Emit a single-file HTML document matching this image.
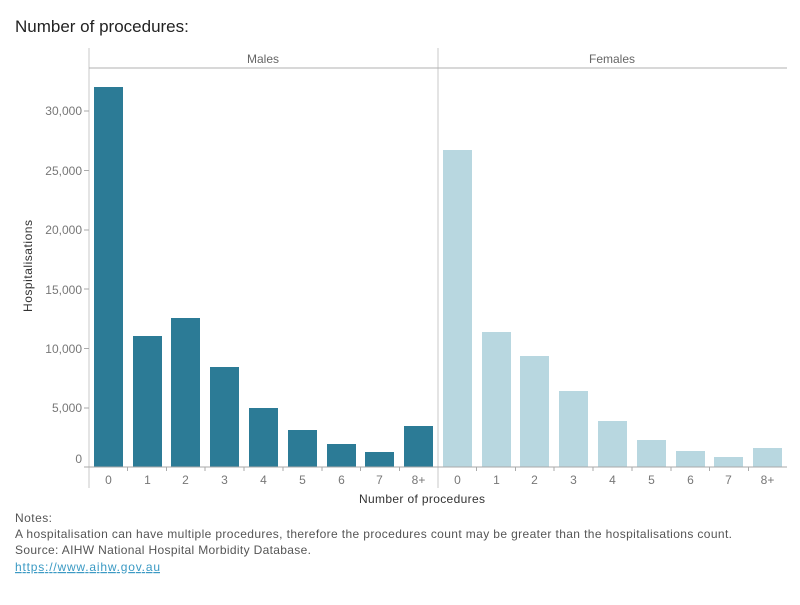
<!DOCTYPE html>
<html><head><meta charset="utf-8"><style>
body{margin:0;background:#fff;font-family:"Liberation Sans",sans-serif;}
</style></head><body>
<svg width="800" height="600" xmlns="http://www.w3.org/2000/svg" font-family="Liberation Sans, sans-serif">
<text x="15" y="32" font-size="17" fill="#222">Number of procedures:</text>
<line x1="89" y1="48" x2="89" y2="488" stroke="#c8c8c8"/>
<line x1="438" y1="48" x2="438" y2="488" stroke="#c8c8c8"/>
<line x1="89" y1="68" x2="787" y2="68" stroke="#b0b0b0"/>
<text x="263" y="63" font-size="12" fill="#666" text-anchor="middle">Males</text>
<text x="612" y="63" font-size="12" fill="#666" text-anchor="middle">Females</text>
<g font-size="12" fill="#777" text-anchor="end">
<text x="82" y="115">30,000</text><line x1="84" y1="111" x2="89" y2="111" stroke="#aaa"/>
<text x="82" y="175">25,000</text><line x1="84" y1="170.5" x2="89" y2="170.5" stroke="#aaa"/>
<text x="82" y="234">20,000</text><line x1="84" y1="230" x2="89" y2="230" stroke="#aaa"/>
<text x="82" y="294">15,000</text><line x1="84" y1="289" x2="89" y2="289" stroke="#aaa"/>
<text x="82" y="353">10,000</text><line x1="84" y1="348.5" x2="89" y2="348.5" stroke="#aaa"/>
<text x="82" y="412">5,000</text><line x1="84" y1="408" x2="89" y2="408" stroke="#aaa"/>
<text x="82" y="463">0</text><line x1="84" y1="467" x2="89" y2="467" stroke="#aaa"/>
</g>
<text transform="translate(32,266) rotate(-90)" font-size="12" fill="#333" text-anchor="middle" textLength="92">Hospitalisations</text>
<g fill="#2c7b96">
<rect x="94" y="87" width="29" height="380"/>
<rect x="133" y="336" width="29" height="131"/>
<rect x="171" y="318" width="29" height="149"/>
<rect x="210" y="367" width="29" height="100"/>
<rect x="249" y="408" width="29" height="59"/>
<rect x="288" y="430" width="29" height="37"/>
<rect x="327" y="444" width="29" height="23"/>
<rect x="365" y="452" width="29" height="15"/>
<rect x="404" y="426" width="29" height="41"/>
</g>
<g fill="#b8d7e0">
<rect x="443" y="150" width="29" height="317"/>
<rect x="482" y="332" width="29" height="135"/>
<rect x="520" y="356" width="29" height="111"/>
<rect x="559" y="391" width="29" height="76"/>
<rect x="598" y="421" width="29" height="46"/>
<rect x="637" y="440" width="29" height="27"/>
<rect x="676" y="451" width="29" height="16"/>
<rect x="714" y="457" width="29" height="10"/>
<rect x="753" y="448" width="29" height="19"/>
</g>
<line x1="89" y1="467" x2="787" y2="467" stroke="#aaa"/>
<g stroke="#aaa">
<line x1="127.5" y1="467" x2="127.5" y2="471"/><line x1="166.5" y1="467" x2="166.5" y2="471"/><line x1="205" y1="467" x2="205" y2="471"/><line x1="244" y1="467" x2="244" y2="471"/><line x1="283" y1="467" x2="283" y2="471"/><line x1="322" y1="467" x2="322" y2="471"/><line x1="360.5" y1="467" x2="360.5" y2="471"/><line x1="399.5" y1="467" x2="399.5" y2="471"/>
<line x1="476.5" y1="467" x2="476.5" y2="471"/><line x1="515.5" y1="467" x2="515.5" y2="471"/><line x1="554" y1="467" x2="554" y2="471"/><line x1="593" y1="467" x2="593" y2="471"/><line x1="632" y1="467" x2="632" y2="471"/><line x1="671" y1="467" x2="671" y2="471"/><line x1="709.5" y1="467" x2="709.5" y2="471"/><line x1="748.5" y1="467" x2="748.5" y2="471"/>
</g>
<g font-size="12" fill="#777" text-anchor="middle">
<text x="108.5" y="484">0</text><text x="147.5" y="484">1</text><text x="185.5" y="484">2</text><text x="224.5" y="484">3</text><text x="263.5" y="484">4</text><text x="302.5" y="484">5</text><text x="341.5" y="484">6</text><text x="379.5" y="484">7</text><text x="418.5" y="484">8+</text>
<text x="457.5" y="484">0</text><text x="496.5" y="484">1</text><text x="534.5" y="484">2</text><text x="573.5" y="484">3</text><text x="612.5" y="484">4</text><text x="651.5" y="484">5</text><text x="690.5" y="484">6</text><text x="728.5" y="484">7</text><text x="767.5" y="484">8+</text>
</g>
<text x="422" y="503" font-size="12" fill="#333" text-anchor="middle" textLength="126">Number of procedures</text>
<g font-size="12" fill="#555">
<text x="15" y="522" textLength="37">Notes:</text>
<text x="15" y="538" textLength="717">A hospitalisation can have multiple procedures, therefore the procedures count may be greater than the hospitalisations count.</text>
<text x="15" y="554" textLength="296">Source: AIHW National Hospital Morbidity Database.</text>
<text x="15" y="571" fill="#3b9ac4" text-decoration="underline" textLength="145">https://www.aihw.gov.au</text>
</g>
</svg>
</body></html>
